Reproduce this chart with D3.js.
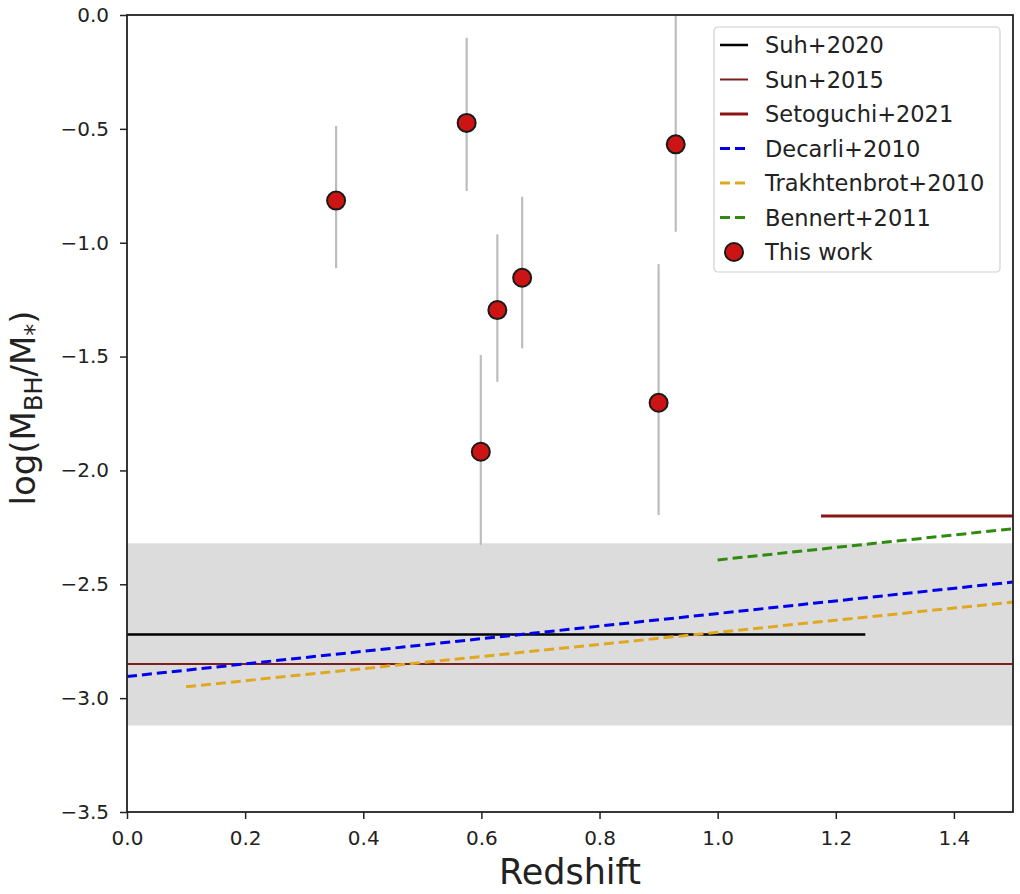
<!DOCTYPE html>
<html>
<head>
<meta charset="utf-8">
<script src="https://cdn.jsdelivr.net/npm/d3@7"></script>
<style>
  body { margin: 0; background: #fff; }
  text { font-family: "DejaVu Sans", sans-serif; fill: #222; }
</style>
</head>
<body>
<script>
// measurements from this work
var zVals = [0.354, 0.575, 0.599, 0.627, 0.669, 0.900, 0.929];
var ratioVals = [-0.815, -0.474, -1.918, -1.296, -1.154, -1.703, -0.568];
var errTop = [-0.487, -0.10, -1.493, -0.963, -0.798, -1.094, 0.05];
var errBottom = [-1.112, -0.773, -2.328, -1.611, -1.464, -2.196, -0.952];

// literature relations: [z0, y0, z1, y1]
var relNames = ['Suh+2020', 'Sun+2015', 'Setoguchi+2021', 'Decarli+2010', 'Trakhtenbrot+2010', 'Bennert+2011'];
var relSegs = [
  [0.0, -2.72, 1.25, -2.72],
  [0.0, -2.85, 1.5, -2.85],
  [1.175, -2.20, 1.5, -2.20],
  [0.0, -2.905, 1.5, -2.49],
  [0.1, -2.95, 1.5, -2.578],
  [1.0, -2.393, 1.5, -2.256]
];
var relColors = ['#000000', '#7a2020', '#8b1515', '#0000ee', '#e0a820', '#2f8a10'];
var relWidths = [2.5, 2, 3, 3, 3, 3];
var relDashed = [false, false, false, true, true, true];

// Suh+2020 scatter band
var bandLow = -3.12;
var bandHigh = -2.32;

var xTicks = [0, 0.2, 0.4, 0.6, 0.8, 1.0, 1.2, 1.4];
var yTicks = [0, -0.5, -1.0, -1.5, -2.0, -2.5, -3.0, -3.5];

var width = 1020, height = 894;
var margin = {left: 127, right: 7, top: 15, bottom: 82};

var svg = d3.select('body').append('svg')
  .attr('width', width)
  .attr('height', height);

var x = d3.scaleLinear().domain([0, 1.5]).range([margin.left, width - margin.right]);
var y = d3.scaleLinear().domain([-3.5, 0]).range([height - margin.bottom, margin.top]);

svg.append('clipPath').attr('id', 'clip')
  .append('rect')
  .attr('x', x(0)).attr('y', y(0))
  .attr('width', x(1.5) - x(0)).attr('height', y(-3.5) - y(0));

var plot = svg.append('g').attr('clip-path', 'url(#clip)');

plot.append('rect')
  .attr('x', x(0))
  .attr('y', y(bandHigh))
  .attr('width', x(1.5) - x(0))
  .attr('height', y(bandLow) - y(bandHigh))
  .style('fill', '#dcdcdc');

for(var i = 0; i < relSegs.length; i++) {
  var s = relSegs[i];
  plot.append('line')
    .attr('x1', x(s[0])).attr('y1', y(s[1]))
    .attr('x2', x(s[2])).attr('y2', y(s[3]))
    .style('stroke', relColors[i])
    .style('stroke-width', relWidths[i])
    .style('stroke-dasharray', relDashed[i] ? '10,5' : null);
}

for(var j = 0; j < zVals.length; j++) {
  plot.append('line')
    .attr('x1', x(zVals[j])).attr('x2', x(zVals[j]))
    .attr('y1', y(errTop[j])).attr('y2', y(errBottom[j]))
    .style('stroke', '#bdbdbd')
    .style('stroke-width', 2.2);
}

for(var k = 0; k < zVals.length; k++) {
  plot.append('circle')
    .attr('cx', x(zVals[k]))
    .attr('cy', y(ratioVals[k]))
    .attr('r', 9)
    .style('fill', '#cc1414')
    .style('stroke', '#1a1a1a')
    .style('stroke-width', 2);
}

// axes
var fmt = d3.format('.1f');
var xAxis = svg.append('g')
  .attr('transform', 'translate(0,' + y(-3.5) + ')')
  .call(d3.axisBottom(x).tickValues(xTicks).tickFormat(fmt).tickSize(7).tickPadding(12));
var yAxis = svg.append('g')
  .attr('transform', 'translate(' + x(0) + ',0)')
  .call(d3.axisLeft(y).tickValues(yTicks).tickFormat(function(d) { return fmt(d).replace('-', '\u2212'); }).tickSize(7).tickPadding(11));

[xAxis, yAxis].forEach(function(a) {
  a.select('.domain').remove();
  a.selectAll('line').style('stroke', '#222').style('stroke-width', 1.5);
  a.selectAll('text').style('font-size', '20px').style('fill', '#222');
});

svg.append('rect')
  .attr('x', x(0)).attr('y', y(0))
  .attr('width', x(1.5) - x(0)).attr('height', y(-3.5) - y(0))
  .style('fill', 'none')
  .style('stroke', '#222')
  .style('stroke-width', 1.8);

svg.append('text')
  .attr('x', (x(0) + x(1.5)) / 2)
  .attr('y', 884)
  .attr('text-anchor', 'middle')
  .style('font-size', '35px')
  .text('Redshift');

var ylab = svg.append('text')
  .attr('transform', 'translate(35,' + 408 + ') rotate(-90)')
  .attr('text-anchor', 'middle')
  .style('font-size', '34px');
ylab.append('tspan').text('log(M');
ylab.append('tspan').attr('dy', 7).style('font-size', '24px').text('BH');
ylab.append('tspan').attr('dy', -7).text('/M');
ylab.append('tspan').attr('dy', 7).style('font-size', '24px').text('*');
ylab.append('tspan').attr('dy', -7).text(')');

// legend
var legend = svg.append('g').attr('transform', 'translate(714,27)');
legend.append('rect')
  .attr('width', 286).attr('height', 245)
  .attr('rx', 4)
  .style('fill', 'rgba(255,255,255,0.85)')
  .style('stroke', '#d0d0d0')
  .style('stroke-width', 1.2);

var legendNames = relNames.concat(['This work']);
for(var m = 0; m < legendNames.length; m++) {
  var ly = 18 + m * 34.5;
  if(m < relNames.length) {
    legend.append('line')
      .attr('x1', 6).attr('x2', 34)
      .attr('y1', ly).attr('y2', ly)
      .style('stroke', relColors[m])
      .style('stroke-width', relWidths[m])
      .style('stroke-dasharray', relDashed[m] ? '10,5' : null);
  } else {
    legend.append('circle')
      .attr('cx', 20).attr('cy', ly).attr('r', 9)
      .style('fill', '#cc1414')
      .style('stroke', '#1a1a1a')
      .style('stroke-width', 2);
  }
  legend.append('text')
    .attr('x', 51).attr('y', ly + 8)
    .style('font-size', '22.5px')
    .text(legendNames[m]);
}
</script>
</body>
</html>
